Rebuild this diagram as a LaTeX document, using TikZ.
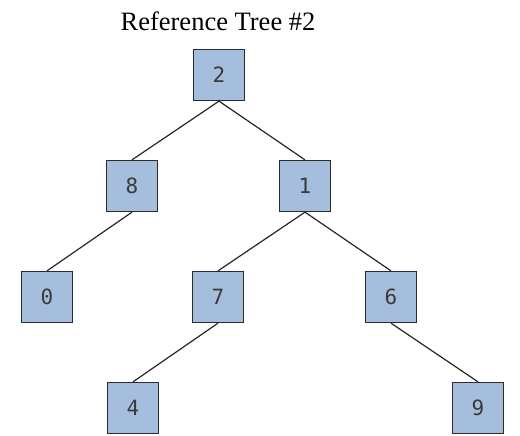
\documentclass[tikz,border=0pt]{standalone}
\usepackage{fontspec}
\setmainfont{Liberation Serif}
\newfontfamily\digitfont{DejaVu Sans Mono}
\definecolor{boxfill}{HTML}{A6BEDD}
\definecolor{boxline}{HTML}{2B2B2B}
\definecolor{digitcol}{HTML}{3A3A3A}
\tikzset{
  treenode/.style={draw=boxline, fill=boxfill, line width=1.3pt, minimum width=51pt, minimum height=51pt, inner sep=0pt, font=\digitfont\fontsize{21}{21}\selectfont, text=digitcol},
  edge/.style={draw=black!85, line width=1.2pt}
}
\begin{document}
\begin{tikzpicture}[x=1pt,y=-1pt]
\useasboundingbox (0,0) rectangle (520,436);
\node[font=\fontsize{26.5}{26.5}\selectfont] (title) at (218,21) {Reference Tree \#2};
\node[treenode] (n2) at (219,75) {2};
\node[treenode] (n8) at (132,186) {8};
\node[treenode] (n1) at (305,186) {1};
\node[treenode] (n0) at (47,297) {0};
\node[treenode] (n7) at (218,297) {7};
\node[treenode] (n6) at (391,297) {6};
\node[treenode] (n4) at (133,408) {4};
\node[treenode] (n9) at (478,408) {9};
\draw[edge] (n2.south) -- (n8.north);
\draw[edge] (n2.south) -- (n1.north);
\draw[edge] (n8.south) -- (n0.north);
\draw[edge] (n1.south) -- (n7.north);
\draw[edge] (n1.south) -- (n6.north);
\draw[edge] (n7.south) -- (n4.north);
\draw[edge] (n6.south) -- (n9.north);
\end{tikzpicture}
\end{document}
